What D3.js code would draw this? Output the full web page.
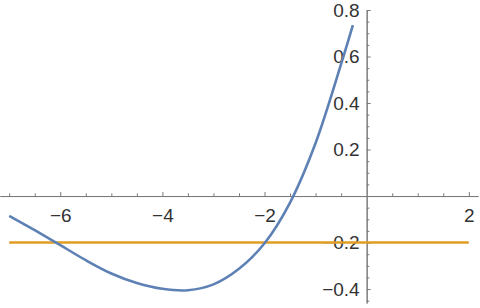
<!DOCTYPE html>
<html>
<head>
<meta charset="utf-8">
<script src="https://cdn.jsdelivr.net/npm/d3@7"></script>
<style>
  body { margin: 0; background: #fff; }
  text { font-family: "Liberation Sans", Arial, sans-serif; }
</style>
</head>
<body>
<div id="myChart"></div>
<script>
// Curve values
const curveX = [-7, -6.5, -6, -5.5, -5, -4.5, -4, -3.5, -3, -2.5, -2, -1.5, -1, -0.5, -0.27];
const curveY = [-0.085, -0.147, -0.211, -0.276, -0.333, -0.374, -0.399, -0.405, -0.38, -0.313, -0.203, -0.028, 0.228, 0.568, 0.735];

// Horizontal line
const lineX = [-7, 2];
const lineY = [-0.2, -0.2];

// Ticks
const xMajor = [-6, -4, -2, 2];
const yMajor = [-0.4, -0.2, 0.2, 0.4, 0.6, 0.8];
const xMinor = [-7, -6.5, -5.5, -5, -4.5, -3.5, -3, -2.5, -1.5, -1, -0.5, 0.5, 1, 1.5];
const yMinor = [-0.45, -0.35, -0.3, -0.25, -0.15, -0.1, -0.05, 0.05, 0.1, 0.15, 0.25, 0.3, 0.35, 0.45, 0.5, 0.55, 0.65, 0.7, 0.75];

const w = 480;
const h = 308;

const svg = d3.select("#myChart")
  .append("svg")
    .attr("width", w)
    .attr("height", h);

const xScale = d3.scaleLinear().domain([-7.18, 2.18]).range([0, 478]);
const yScale = d3.scaleLinear().domain([-0.46, 0.8]).range([303, 10]);

const fmt = d => d3.format(".1~f")(d).replace("-", "\u2212");
const axisColor = "#7a7a7a";

// x axis: minor then major ticks, pointing up
const xG = svg.append("g").attr("transform", `translate(0,${yScale(0)})`);
xG.append("g")
  .call(d3.axisBottom(xScale).tickValues(xMinor).tickSizeInner(-2.7).tickSizeOuter(0).tickFormat(""));
xG.append("g")
  .call(d3.axisBottom(xScale).tickValues(xMajor).tickSizeInner(-4).tickSizeOuter(0).tickPadding(12).tickFormat(fmt));

// y axis: ticks pointing right, labels on the left
const yG = svg.append("g").attr("transform", `translate(${xScale(0)},0)`);
yG.append("g")
  .call(d3.axisLeft(yScale).tickValues(yMinor).tickSizeInner(-2.7).tickSizeOuter(0).tickFormat(""));
yG.append("g")
  .call(d3.axisLeft(yScale).tickValues(yMajor).tickSizeInner(-4).tickSizeOuter(0).tickPadding(7).tickFormat(fmt));

svg.selectAll(".domain, .tick line").attr("stroke", axisColor).attr("stroke-width", 1);
svg.selectAll(".tick text")
  .attr("fill", "#333")
  .style("font-size", "19px")
  .style("font-family", "'Liberation Sans', Arial, sans-serif");

// Curve
const line = d3.line()
  .x(d => xScale(d[0]))
  .y(d => yScale(d[1]))
  .curve(d3.curveCatmullRom.alpha(0.5));

svg.append("path")
  .datum(d3.zip(lineX, lineY))
  .attr("fill", "none")
  .attr("stroke", "#e19c24")
  .attr("stroke-width", 2.6)
  .attr("d", line);

svg.append("path")
  .datum(d3.zip(curveX, curveY))
  .attr("fill", "none")
  .attr("stroke", "#5e81b5")
  .attr("stroke-width", 2.6)
  .attr("d", line);
</script>
</body>
</html>
